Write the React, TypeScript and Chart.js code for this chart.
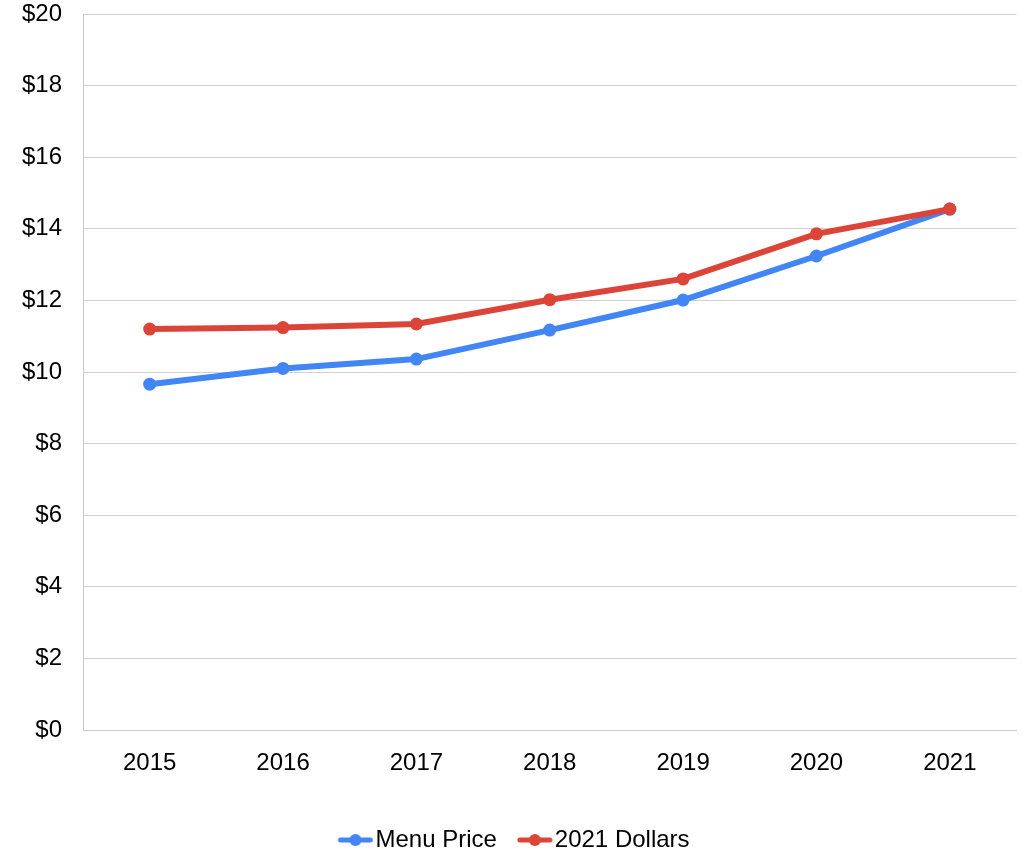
import React, { useEffect, useRef } from "react";
import { Chart, registerables } from "chart.js";

Chart.register(...registerables);

const years = ["2015", "2016", "2017", "2018", "2019", "2020", "2021"];
const menuPrice = [9.66, 10.1, 10.36, 11.17, 12.01, 13.24, 14.55];
const dollars2021 = [11.2, 11.24, 11.34, 12.02, 12.6, 13.86, 14.55];
const seriesNames = ["Menu Price", "2021 Dollars"];
const BLUE = "#4285F4";
const RED = "#DB4437";
const FONT = "'Liberation Sans', Arial, sans-serif";

function makeMarker(color: string) {
  const c = document.createElement("canvas");
  const shift = 10;
  c.width = 36 + shift * 2;
  c.height = 14;
  const ctx = c.getContext("2d")!;
  ctx.strokeStyle = color;
  ctx.lineWidth = 5;
  ctx.lineCap = "round";
  ctx.beginPath();
  ctx.moveTo(shift * 2 + 3, 7);
  ctx.lineTo(c.width - 3, 7);
  ctx.stroke();
  ctx.fillStyle = color;
  ctx.beginPath();
  ctx.arc(shift * 2 + 18, 7, 6, 0, Math.PI * 2);
  ctx.fill();
  return c;
}

export default function App() {
  const ref = useRef<HTMLCanvasElement | null>(null);
  useEffect(() => {
    document.body.style.margin = "0";
    const markers = [makeMarker(BLUE), makeMarker(RED)];
    const chart = new Chart(ref.current!, {
      type: "line",
      data: {
        labels: years,
        datasets: [
          {
            label: seriesNames[0],
            data: menuPrice,
            borderColor: BLUE,
            backgroundColor: BLUE,
            borderWidth: 6,
            pointRadius: 6.5,
            pointBackgroundColor: BLUE,
            pointBorderWidth: 0,
            pointStyle: "circle",
            order: 2,
          },
          {
            label: seriesNames[1],
            data: dollars2021,
            borderColor: RED,
            backgroundColor: RED,
            borderWidth: 6,
            pointRadius: 6.5,
            pointBackgroundColor: RED,
            pointBorderWidth: 0,
            pointStyle: "circle",
            order: 1,
          },
        ],
      },
      options: {
        responsive: false,
        animation: false,
        devicePixelRatio: 1,
        layout: { padding: { top: 14, right: 6, bottom: 4, left: 0 } },
        font: { family: FONT, size: 24 },
        color: "#000",
        plugins: {
          tooltip: { enabled: false },
          legend: {
            position: "bottom",
            labels: {
              color: "#000",
              font: { family: FONT, size: 24 },
              usePointStyle: true,
              pointStyleWidth: 36,
              padding: 10,
              sort: (a: any, b: any) => a.datasetIndex - b.datasetIndex,
              generateLabels: (ch: any) =>
                ch.data.datasets.map((ds: any, i: number) => ({
                  text: ds.label,
                  pointStyle: markers[i],
                  fillStyle: ds.borderColor,
                  strokeStyle: ds.borderColor,
                  lineWidth: 0,
                  hidden: false,
                  datasetIndex: i,
                  fontColor: "#000",
                })),
            },
          },
        },
        scales: {
          x: {
            offset: true,
            grid: { display: false },
            border: { display: true, color: "#c8c8c8" },
            ticks: {
              color: "#000",
              padding: 11,
              font: { family: FONT, size: 24 },
            },
            afterFit: (s: any) => {
              s.height = 88;
              s.paddingTop = 0;
              s.paddingBottom = 0;
            },
          },
          y: {
            min: 0,
            max: 20,
            grid: { color: "#d0d0d0", drawTicks: false },
            border: { display: true, color: "#c8c8c8" },
            ticks: {
              stepSize: 2,
              color: "#000",
              padding: 21,
              font: { family: FONT, size: 24 },
              callback: (v: any) => "$" + v,
            },
            afterFit: (s: any) => {
              s.width = 83;
              s.paddingTop = 0;
              s.paddingBottom = 0;
            },
          },
        },
      },
    });
    return () => chart.destroy();
  }, []);
  return (
    <div style={{ width: 1023, height: 866 }}>
      <canvas ref={ref} width={1023} height={866} style={{ display: "block" }} />
    </div>
  );
}
